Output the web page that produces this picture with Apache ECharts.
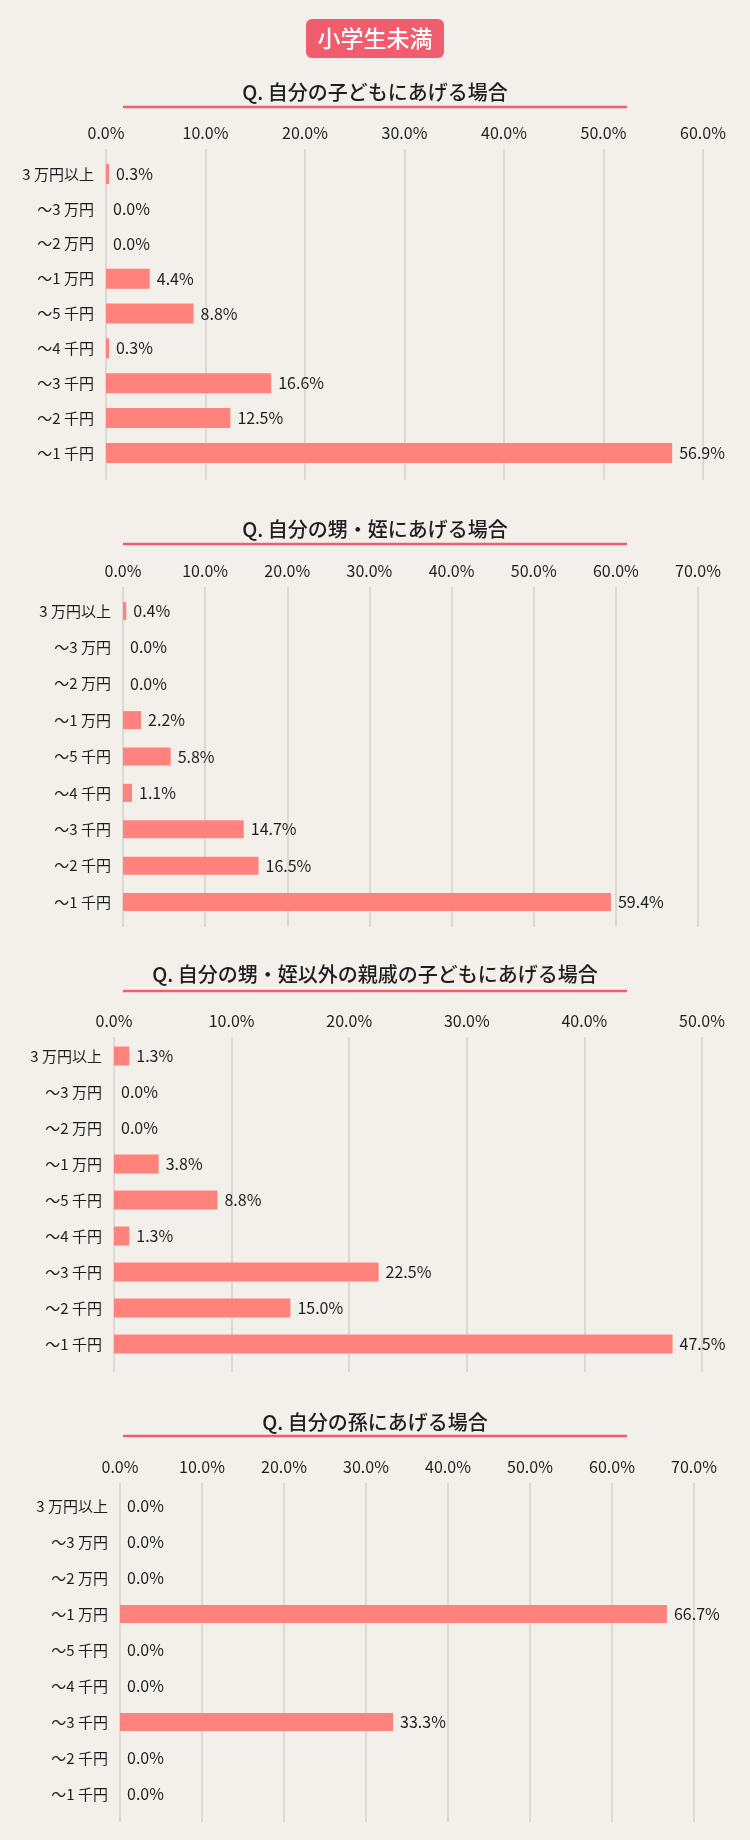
<!DOCTYPE html>
<html>
<head>
<meta charset="utf-8">
<script src="https://cdn.jsdelivr.net/npm/echarts@6/dist/echarts.min.js"></script>
<style>
html,body{margin:0;padding:0;background:#F3F0EB;}
#c{width:750px;height:1840px;}
</style>
</head>
<body>
<div id="c"></div>
<script>
const badgeText = '小学生未満';
const categories = ['3 万円以上','～3 万円','～2 万円','～1 万円','～5 千円','～4 千円','～3 千円','～2 千円','～1 千円'];
const titles = [
  'Q. 自分の子どもにあげる場合',
  'Q. 自分の甥・姪にあげる場合',
  'Q. 自分の甥・姪以外の親戚の子どもにあげる場合',
  'Q. 自分の孫にあげる場合'
];
const childValues    = [0.3, 0.0, 0.0, 4.4, 8.8, 0.3, 16.6, 12.5, 56.9];
const nieceValues    = [0.4, 0.0, 0.0, 2.2, 5.8, 1.1, 14.7, 16.5, 59.4];
const relativeValues = [1.3, 0.0, 0.0, 3.8, 8.8, 1.3, 22.5, 15.0, 47.5];
const grandValues    = [0.0, 0.0, 0.0, 66.7, 0.0, 0.0, 33.3, 0.0, 0.0];
const axisMax = [60, 70, 50, 70];
const seriesData = [childValues, nieceValues, relativeValues, grandValues];

// layout (pixels)
const H = 1840;
const layout = [
  {left:106, right:47, gTop:149, gBot:480, bTop:156.6, bBot:470.4, title:93, line:107, bar:20},
  {left:123, right:52, gTop:587, gBot:927, bTop:592.8, bBot:920.2, title:530, line:544, bar:18},
  {left:114, right:48, gTop:1037, gBot:1372, bTop:1038, bBot:1362, title:975, line:991, bar:19},
  {left:120, right:56, gTop:1483, gBot:1822, bTop:1488, bBot:1812, title:1423, line:1436, bar:18}
];
const FONT = '"Noto Sans CJK JP","Noto Sans",sans-serif';
const TEXT = '#1e1e1e';
const BAR = '#FF837C';
const PINK = '#F25C6F';

const grid = [], xAxis = [], yAxis = [], series = [], title = [], graphic = [];
layout.forEach((L, i) => {
  grid.push({left:L.left, right:L.right, top:L.gTop, bottom:H - L.gBot, containLabel:false});
  grid.push({left:L.left, right:L.right, top:L.bTop, bottom:H - L.bBot, containLabel:false});
  const gA = i*2, gB = i*2+1;
  xAxis.push({
    type:'value', gridIndex:gA, position:'top', min:0, max:axisMax[i], interval:10,
    axisLine:{show:false}, axisTick:{show:false},
    axisLabel:{show:true, margin:8, color:TEXT, fontFamily:FONT, fontSize:16,
      formatter:v => v.toFixed(1) + '%'},
    splitLine:{show:true, lineStyle:{color:'#DCD9D4', width:2}}
  });
  xAxis.push({
    type:'value', gridIndex:gB, min:0, max:axisMax[i], interval:10, show:false,
    splitLine:{show:false}
  });
  yAxis.push({type:'category', gridIndex:gA, data:categories, inverse:true, show:false});
  yAxis.push({
    type:'category', gridIndex:gB, data:categories, inverse:true,
    axisLine:{show:false}, axisTick:{show:false},
    axisLabel:{color:TEXT, fontFamily:FONT, fontSize:15, margin:12}
  });
  series.push({
    type:'bar', xAxisIndex:gB, yAxisIndex:gB, data:seriesData[i], barWidth:L.bar,
    itemStyle:{color:BAR}, silent:true,
    label:{show:true, position:'right', distance:7, color:TEXT, fontFamily:FONT, fontSize:16,
      formatter:p => p.value.toFixed(1) + '%'}
  });
  title.push({
    text:titles[i], left:'center', top:L.title - 16,
    textStyle:{color:TEXT, fontFamily:FONT, fontSize:20, fontWeight:500}
  });
  graphic.push({
    type:'line', shape:{x1:123, y1:L.line, x2:627, y2:L.line},
    style:{stroke:PINK, lineWidth:2.5}
  });
});

graphic.push({
  type:'rect', shape:{x:306, y:19, width:138, height:39, r:6},
  style:{fill:PINK}
});
graphic.push({
  type:'text', x:375, y:38.5,
  style:{text:badgeText, fill:'#ffffff', font:'500 23px ' + FONT, textAlign:'center', textVerticalAlign:'middle'}
});

const chart = echarts.init(document.getElementById('c'), null, {renderer:'canvas'});
chart.setOption({
  backgroundColor:'#F3F0EB',
  animation:false,
  title, grid, xAxis, yAxis, series, graphic
});
</script>
</body>
</html>
